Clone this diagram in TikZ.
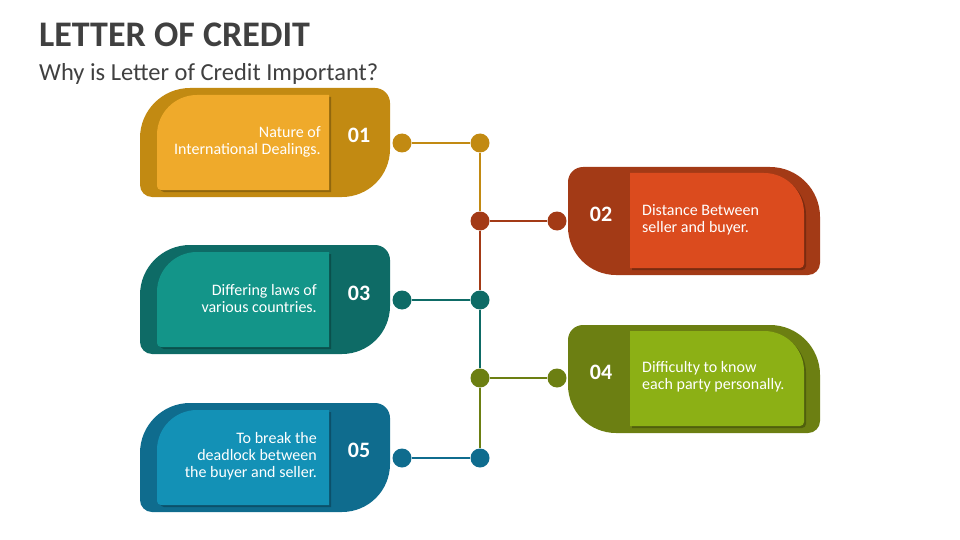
\documentclass[tikz,border=0pt]{standalone}
\usepackage{fontspec}
\setmainfont{Carlito}
\begin{document}
\begin{tikzpicture}[x=1pt,y=-1pt,
  txt/.style={text=white,font=\fontsize{16}{17}\selectfont,align=right,inner sep=0},
  txtr/.style={text=white,font=\fontsize{16}{17}\selectfont,align=left,inner sep=0},
  num/.style={text=white,font=\bfseries\fontsize{22}{24}\selectfont,inner sep=0},
  dot/.style={circle,inner sep=0,minimum size=19pt}]
\definecolor{goldO}{HTML}{C28A12}\definecolor{goldI}{HTML}{EFAA2B}
\definecolor{redO}{HTML}{A33A16}\definecolor{redI}{HTML}{DB4B1E}
\definecolor{tealO}{HTML}{0E6B66}\definecolor{tealI}{HTML}{139589}
\definecolor{grnO}{HTML}{6C7F12}\definecolor{grnI}{HTML}{8CB015}
\definecolor{bluO}{HTML}{0F6C8E}\definecolor{bluI}{HTML}{1391B6}
\useasboundingbox (0,0) rectangle (960,540);
\node[anchor=west,inner sep=0,text=black!75,font=\bfseries\fontsize{36}{40}\selectfont] (title) at (39,35) {LETTER OF CREDIT};
\node[anchor=west,inner sep=0,text=black!75,font=\fontsize{24.5}{27}\selectfont] (sub) at (39,74) {Why is Letter of Credit Important?};
\newcommand\lcard[3]{
 \fill[#2] (140,#1+54) [rounded corners=50pt] -- (140,#1) [rounded corners=15pt] -- (390,#1) [rounded corners=48pt] -- (390,#1+109) [rounded corners=12pt] -- (140,#1+109) [sharp corners] -- cycle;
 \fill[black,opacity=0.25] (160,#1+56) [rounded corners=40pt] -- (160,#1+9) [sharp corners] -- (331,#1+9) -- (331,#1+104) [rounded corners=4pt] -- (160,#1+104) [sharp corners] -- cycle;
 \fill[#3] (157,#1+50) [rounded corners=40pt] -- (157,#1+7) [sharp corners] -- (329,#1+7) -- (329,#1+102) [rounded corners=4pt] -- (157,#1+102) [sharp corners] -- cycle;
}
\newcommand\rcard[3]{
 \fill[#2] (820,#1+54) [rounded corners=50pt] -- (820,#1) [rounded corners=15pt] -- (568,#1) [rounded corners=48pt] -- (568,#1+108) [rounded corners=12pt] -- (820,#1+108) [sharp corners] -- cycle;
 \fill[black,opacity=0.25] (806,#1+56) [rounded corners=40pt] -- (806,#1+8) [sharp corners] -- (632,#1+8) -- (632,#1+103) [rounded corners=4pt] -- (806,#1+103) [sharp corners] -- cycle;
 \fill[#3] (804,#1+50) [rounded corners=40pt] -- (804,#1+6) [sharp corners] -- (630,#1+6) -- (630,#1+101) [rounded corners=4pt] -- (804,#1+101) [sharp corners] -- cycle;
}
\lcard{88}{goldO}{goldI}
\lcard{245}{tealO}{tealI}
\lcard{403}{bluO}{bluI}
\rcard{167}{redO}{redI}
\rcard{325}{grnO}{grnI}
\node[num] (n1) at (359,135) {01};
\node[num] (n3) at (359,293) {03};
\node[num] (n5) at (359,450) {05};
\node[num] (n2) at (601,214) {02};
\node[num] (n4) at (601,372) {04};
\node[txt,anchor=east] (t1) at (321,142) {Nature of\\International Dealings.};
\node[txt,anchor=east] (t3) at (317,299) {Differing laws of\\various countries.};
\node[txt,anchor=east] (t5) at (317,456) {To break the\\deadlock between\\the buyer and seller.};
\node[txtr,anchor=west] (t2) at (642,220) {Distance Between\\seller and buyer.};
\node[txtr,anchor=west] (t4) at (642,377) {Difficulty to know\\each party personally.};
\node[dot,fill=goldO] (a1) at (402,143) {};
\node[dot,fill=goldO] (j1) at (480,143) {};
\node[dot,fill=redO] (j2) at (480,221) {};
\node[dot,fill=redO] (a2) at (557,221) {};
\node[dot,fill=tealO] (a3) at (402,300) {};
\node[dot,fill=tealO] (j3) at (480,300) {};
\node[dot,fill=grnO] (j4) at (480,378) {};
\node[dot,fill=grnO] (a4) at (557,378) {};
\node[dot,fill=bluO] (a5) at (402,458) {};
\node[dot,fill=bluO] (j5) at (480,458) {};
\begin{scope}[line width=2.5pt]
\draw[goldO] (a1) -- (j1); \draw[goldO] (j1) -- (j2);
\draw[redO] (j2) -- (a2); \draw[redO] (j2) -- (j3);
\draw[tealO] (a3) -- (j3); \draw[tealO] (j3) -- (j4);
\draw[grnO] (j4) -- (a4); \draw[grnO] (j4) -- (j5);
\draw[bluO] (a5) -- (j5);
\end{scope}
\end{tikzpicture}
\end{document}
